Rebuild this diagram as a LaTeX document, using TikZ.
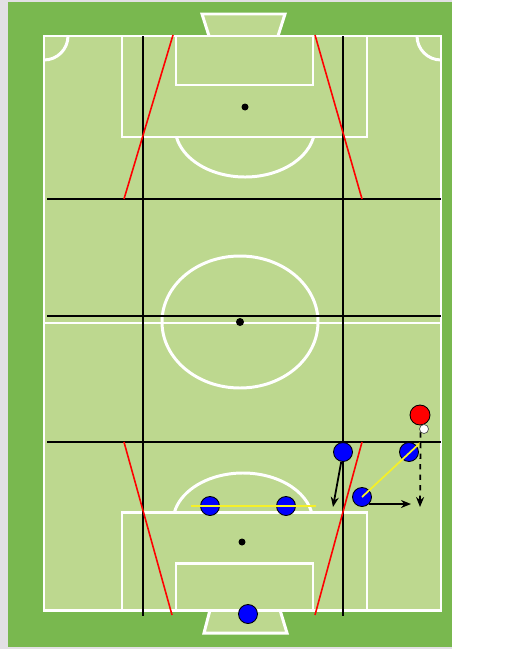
\documentclass[tikz,border=0pt]{standalone}
\usetikzlibrary{arrows.meta}
\definecolor{grassdark}{RGB}{121,184,79}
\definecolor{grasslight}{RGB}{189,216,143}
\definecolor{framegray}{RGB}{226,224,228}
\definecolor{passyellow}{RGB}{245,240,40}

\begin{document}
\begin{tikzpicture}[
  x=0.02cm, y=-0.02cm,
  chalk/.style = {draw=white, line width=1.7pt},
  gridline/.style = {black, line width=1.1pt},
  zone/.style = {red, line width=0.9pt},
  player/.style = {circle, draw=black, fill=blue, minimum size=0.38cm, inner sep=0pt, line width=0.5pt},
  rival/.style = {circle, draw=black, fill=red, minimum size=0.4cm, inner sep=0pt, line width=0.5pt},
  ballnode/.style = {circle, draw=black!70, fill=white, minimum size=0.18cm, inner sep=0pt, line width=0.4pt},
  spot/.style = {circle, fill=black, minimum size=0.14cm, inner sep=0pt},
  pass/.style = {passyellow, line width=1pt},
  run/.style = {black, line width=1pt, -{Stealth[length=2mm, width=1.6mm]}}
]

  % frame and grass
  \useasboundingbox (0,0) rectangle (512,649);
  \fill[white] (0,0) rectangle (512,649);
  \fill[framegray] (0,0) rectangle (452,649);
  \fill[grassdark] (8,2) rectangle (452,647);

  % goals
  \filldraw[fill=grasslight, chalk] (209,36) -- (202,14) -- (285,14) -- (278,36);
  \filldraw[fill=grasslight, chalk] (210,610) -- (204,633) -- (287,633) -- (280,610);

  % pitch
  \filldraw[fill=grasslight, chalk] (44,36) rectangle (441,610);

  % top half markings
  \draw[chalk] (122,36) rectangle (367,137);
  \draw[chalk] (176,36) rectangle (313,85);
  \draw[chalk] (245,127) ++(11.5:70 and 50) arc[start angle=11.5, end angle=168.5, x radius=70, y radius=50];
  \draw[chalk] (68,36) arc[start angle=0, end angle=90, radius=24];
  \draw[chalk] (417,36) arc[start angle=180, end angle=90, radius=24];
  \node[spot] (topspot) at (245,107) {};

  % halfway line and centre circle
  \draw[chalk] (44,323) -- (441,323);
  \draw[chalk] (240,322) ellipse [x radius=78, y radius=66];
  \node[spot, minimum size=0.16cm] (centrespot) at (240,322) {};

  % bottom half markings
  \draw[chalk] (122,512) rectangle (367,610);
  \draw[chalk] (176,563) rectangle (313,610);
  \draw[chalk] (243,522) ++(-11.8:70 and 49) arc[start angle=-11.8, end angle=-168.2, x radius=70, y radius=49];
  \node[spot] (botspot) at (242,542) {};

  % zones
  \draw[gridline] (143,36) -- (143,616);
  \draw[gridline] (343,36) -- (343,616);
  \draw[gridline] (47,199) -- (441,199);
  \draw[gridline] (47,316) -- (441,316);
  \draw[gridline] (47,442) -- (441,442);

  % channels
  \draw[zone] (173,35) -- (124,199);
  \draw[zone] (315,35) -- (362,199);
  \draw[zone] (124,442) -- (172,615);
  \draw[zone] (362,442) -- (315,615);

  % players
  \node[player] (keeper) at (248,614) {};
  \node[player] (defleft) at (210,506) {};
  \node[player] (defright) at (286,506) {};
  \node[player] (wingin) at (343,452) {};
  \node[player] (wingout) at (409,452) {};
  \node[player] (mid) at (362,497) {};
  \node[rival] (attacker) at (420,415) {};
  \node[ballnode] (ball) at (424,429) {};

  % passes
  \coordinate (lineleft) at (191,506);
  \coordinate (lineright) at (316,506);
  \draw[pass] (lineleft) -- (lineright);
  \coordinate (passend) at (420,443);
  \draw[pass] (mid.center) -- (passend);

  % movements
  \coordinate (runin) at (333,507);
  \draw[run] (wingin) -- (runin);
  \coordinate (runmid) at (411,504);
  \draw[run] (mid.south east) -- (runmid);
  \coordinate (dropball) at (420,507);
  \draw[run, dashed] (ball.south west) -- (dropball);

\end{tikzpicture}
\end{document}
